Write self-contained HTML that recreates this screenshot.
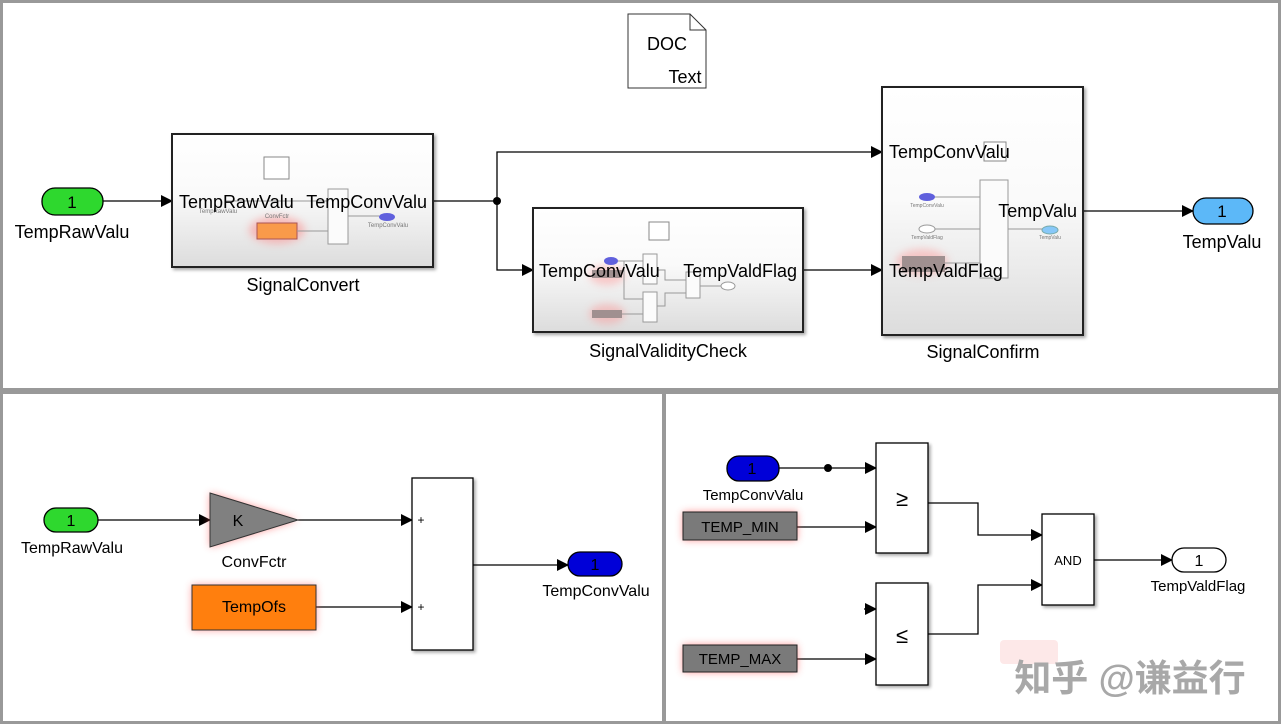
<!DOCTYPE html>
<html><head><meta charset="utf-8"><style>
html,body{margin:0;padding:0;background:#fff;}
svg{display:block;font-family:"Liberation Sans",Arial,sans-serif;}
</style></head><body>
<svg width="1282" height="726" viewBox="0 0 1282 726" xmlns="http://www.w3.org/2000/svg">
<defs>
<linearGradient id="g" x1="0" y1="0" x2="0" y2="1"><stop offset="0" stop-color="#fff"/><stop offset="0.45" stop-color="#fafafa"/><stop offset="1" stop-color="#dcdcdc"/></linearGradient>
<filter id="glow" x="-40%" y="-60%" width="180%" height="220%"><feGaussianBlur stdDeviation="4"/></filter>
<filter id="sh" x="-5%" y="-5%" width="115%" height="115%"><feDropShadow dx="2" dy="2" stdDeviation="1.5" flood-color="#000" flood-opacity="0.35"/></filter>
<marker id="a" markerWidth="12" markerHeight="12" refX="11" refY="6" orient="auto" markerUnits="userSpaceOnUse"><path d="M0,0 L12,6 L0,12 z" fill="#000"/></marker>
</defs>
<rect width="1282" height="726" fill="#fff"/>
<rect x="1.5" y="1.5" width="1278" height="388" fill="none" stroke="#999" stroke-width="3"/>
<rect x="1.5" y="392.5" width="662" height="330" fill="none" stroke="#999" stroke-width="3"/>
<rect x="664.5" y="392.5" width="615" height="330" fill="none" stroke="#999" stroke-width="3"/>

<path d="M628,14 H690 L706,30 V88 H628 Z" fill="#fff" stroke="#333"/>
<path d="M690,14 V30 H706" fill="none" stroke="#333"/>
<text x="667" y="50" font-size="18" text-anchor="middle">DOC</text>
<text x="685" y="83" font-size="18" text-anchor="middle">Text</text>

<g stroke="#000" stroke-width="1.3" fill="none">
<path d="M103,201 H172" marker-end="url(#a)"/>
<path d="M433,201 H497 V152 H882" marker-end="url(#a)"/>
<path d="M497,201 V270 H533" marker-end="url(#a)"/>
<path d="M803,270 H882" marker-end="url(#a)"/>
<path d="M1083,211 H1193" marker-end="url(#a)"/>
</g>
<circle cx="497" cy="201" r="4" fill="#000"/>

<rect x="42" y="188" width="61" height="27" rx="13" fill="#2ed82e" stroke="#000" stroke-width="1.3"/>
<text x="72" y="208" font-size="17" text-anchor="middle">1</text>
<text x="72" y="238" font-size="18" text-anchor="middle">TempRawValu</text>

<rect x="172" y="134" width="261" height="133" fill="url(#g)" stroke="#222" stroke-width="2" filter="url(#sh)"/>
<rect x="264" y="157" width="25" height="22" fill="#fff" stroke="#888"/>
<ellipse cx="277" cy="230" rx="28" ry="14" fill="#f88" opacity="0.5" filter="url(#glow)"/>
<rect x="257" y="223" width="40" height="16" fill="#f99a4a" stroke="#a55"/>
<rect x="328" y="189" width="20" height="55" fill="#fbfbfb" stroke="#999"/>
<ellipse cx="387" cy="217" rx="8" ry="4" fill="#6060dd"/>
<path d="M297,231 H328 M348,216 H379 M225,201 H328" stroke="#999" fill="none"/>
<text x="218" y="213" font-size="6" fill="#777" text-anchor="middle">TempRawValu</text>
<text x="277" y="218" font-size="6" fill="#777" text-anchor="middle">ConvFctr</text>
<text x="388" y="227" font-size="6" fill="#777" text-anchor="middle">TempConvValu</text>
<text x="179" y="208" font-size="18">TempRawValu</text>
<text x="427" y="208" font-size="18" text-anchor="end">TempConvValu</text>
<text x="303" y="291" font-size="18" text-anchor="middle">SignalConvert</text>

<rect x="533" y="208" width="270" height="124" fill="url(#g)" stroke="#222" stroke-width="2" filter="url(#sh)"/>
<rect x="649" y="222" width="20" height="18" fill="#fff" stroke="#888"/>
<ellipse cx="607" cy="275" rx="18" ry="10" fill="#f88" opacity="0.4" filter="url(#glow)"/>
<ellipse cx="607" cy="314" rx="18" ry="10" fill="#f88" opacity="0.4" filter="url(#glow)"/>
<rect x="592" y="270" width="30" height="8" fill="#a09090"/>
<rect x="592" y="310" width="30" height="8" fill="#a09090"/>
<ellipse cx="611" cy="261" rx="7" ry="4" fill="#6060dd"/>
<rect x="643" y="254" width="14" height="30" fill="#fbfbfb" stroke="#999"/>
<rect x="643" y="292" width="14" height="30" fill="#fbfbfb" stroke="#999"/>
<rect x="686" y="272" width="14" height="26" fill="#fbfbfb" stroke="#999"/>
<ellipse cx="728" cy="286" rx="7" ry="4" fill="#fff" stroke="#999"/>
<path d="M618,261 H643 M624,261 V299 H643 M622,314 H643 M657,270 H665 V280 H686 M657,306 H665 V293 H686 M700,286 H721" stroke="#999" fill="none"/>
<text x="539" y="277" font-size="18">TempConvValu</text>
<text x="797" y="277" font-size="18" text-anchor="end">TempValdFlag</text>
<text x="668" y="357" font-size="18" text-anchor="middle">SignalValidityCheck</text>

<rect x="882" y="87" width="201" height="248" fill="url(#g)" stroke="#222" stroke-width="2" filter="url(#sh)"/>
<rect x="984" y="142" width="22" height="19" fill="#fff" stroke="#888"/>
<rect x="980" y="180" width="28" height="98" fill="#fbfbfb" stroke="#999"/>
<ellipse cx="927" cy="197" rx="8" ry="4" fill="#6060dd"/>
<ellipse cx="927" cy="229" rx="8" ry="4" fill="#fff" stroke="#999"/>
<ellipse cx="1050" cy="230" rx="8" ry="4" fill="#88c8f8" stroke="#7aa"/>
<ellipse cx="922" cy="262" rx="26" ry="13" fill="#f88" opacity="0.4" filter="url(#glow)"/>
<rect x="902" y="256" width="43" height="16" fill="#a09090"/>
<path d="M935,197 H980 M935,229 H980 M945,263 H980 M1008,229 H1042" stroke="#999" fill="none"/>
<text x="927" y="207" font-size="5" fill="#777" text-anchor="middle">TempConvValu</text>
<text x="927" y="239" font-size="5" fill="#777" text-anchor="middle">TempValdFlag</text>
<text x="1050" y="239" font-size="5" fill="#777" text-anchor="middle">TempValu</text>
<text x="889" y="158" font-size="18">TempConvValu</text>
<text x="1077" y="217" font-size="18" text-anchor="end">TempValu</text>
<text x="889" y="277" font-size="18">TempValdFlag</text>
<text x="983" y="358" font-size="18" text-anchor="middle">SignalConfirm</text>

<rect x="1193" y="198" width="60" height="26" rx="13" fill="#5cb8f8" stroke="#000" stroke-width="1.3"/>
<text x="1222" y="217" font-size="17" text-anchor="middle">1</text>
<text x="1222" y="248" font-size="18" text-anchor="middle">TempValu</text>

<g stroke="#000" stroke-width="1.3" fill="none">
<path d="M98,520 H210" marker-end="url(#a)"/>
<path d="M298,520 H412" marker-end="url(#a)"/>
<path d="M316,607 H412" marker-end="url(#a)"/>
<path d="M473,565 H568" marker-end="url(#a)"/>
</g>
<rect x="44" y="508" width="54" height="24" rx="12" fill="#2ed82e" stroke="#000" stroke-width="1.3"/>
<text x="71" y="526" font-size="16" text-anchor="middle">1</text>
<text x="72" y="553" font-size="16" text-anchor="middle">TempRawValu</text>
<path d="M210,493 L298,520 L210,547 Z" fill="#f55" opacity="0.6" filter="url(#glow)"/>
<path d="M210,493 L298,520 L210,547 Z" fill="#808080" stroke="#333"/>
<text x="238" y="526" font-size="16" text-anchor="middle">K</text>
<text x="254" y="567" font-size="16" text-anchor="middle">ConvFctr</text>
<rect x="192" y="585" width="124" height="45" fill="#f55" opacity="0.6" filter="url(#glow)"/>
<rect x="192" y="585" width="124" height="45" fill="#ff7f0e" stroke="#333"/>
<text x="254" y="612" font-size="16" text-anchor="middle">TempOfs</text>
<rect x="412" y="478" width="61" height="172" fill="#fff" stroke="#000" stroke-width="1.3" filter="url(#sh)"/>
<text x="421" y="524" font-size="12" text-anchor="middle">+</text>
<text x="421" y="611" font-size="12" text-anchor="middle">+</text>
<rect x="568" y="552" width="54" height="24" rx="12" fill="#0000d8" stroke="#000" stroke-width="1.3"/>
<text x="595" y="570" font-size="16" text-anchor="middle">1</text>
<text x="596" y="596" font-size="16" text-anchor="middle">TempConvValu</text>

<g stroke="#000" stroke-width="1.3" fill="none">
<path d="M779,468 H876" marker-end="url(#a)"/>
<path d="M797,527 H876" marker-end="url(#a)"/>
<path d="M864,609 H876" marker-end="url(#a)"/>
<path d="M797,659 H876" marker-end="url(#a)"/>
<path d="M928,503 H978 V535 H1042" marker-end="url(#a)"/>
<path d="M928,634 H978 V585 H1042" marker-end="url(#a)"/>
<path d="M1094,560 H1172" marker-end="url(#a)"/>
</g>
<circle cx="828" cy="468" r="4" fill="#000"/>
<rect x="727" y="456" width="52" height="25" rx="12" fill="#0000d8" stroke="#000" stroke-width="1.3"/>
<text x="752" y="474" font-size="16" text-anchor="middle">1</text>
<text x="753" y="500" font-size="15" text-anchor="middle">TempConvValu</text>
<rect x="683" y="512" width="114" height="28" fill="#f44" opacity="0.6" filter="url(#glow)"/>
<rect x="683" y="512" width="114" height="28" fill="#7a7a7a" stroke="#222"/>
<text x="740" y="532" font-size="15" text-anchor="middle">TEMP_MIN</text>
<rect x="683" y="645" width="114" height="27" fill="#f44" opacity="0.6" filter="url(#glow)"/>
<rect x="683" y="645" width="114" height="27" fill="#7a7a7a" stroke="#222"/>
<text x="740" y="664" font-size="15" text-anchor="middle">TEMP_MAX</text>
<rect x="876" y="443" width="52" height="110" fill="#fff" stroke="#000" stroke-width="1.3" filter="url(#sh)"/>
<text x="902" y="506" font-size="22" text-anchor="middle">≥</text>
<rect x="876" y="583" width="52" height="102" fill="#fff" stroke="#000" stroke-width="1.3" filter="url(#sh)"/>
<text x="902" y="643" font-size="22" text-anchor="middle">≤</text>
<rect x="1042" y="514" width="52" height="91" fill="#fff" stroke="#000" stroke-width="1.3" filter="url(#sh)"/>
<text x="1068" y="565" font-size="13" text-anchor="middle">AND</text>
<rect x="1172" y="548" width="54" height="24" rx="12" fill="#fff" stroke="#000" stroke-width="1.3"/>
<text x="1199" y="566" font-size="16" text-anchor="middle">1</text>
<text x="1198" y="591" font-size="15" text-anchor="middle">TempValdFlag</text>

<rect x="1000" y="640" width="58" height="24" rx="4" fill="#fde8e8"/>
<text x="1130" y="691" font-size="37" fill="#a8a8a8" font-weight="bold" text-anchor="middle" font-family="'Liberation Sans','Noto Sans CJK SC',sans-serif">知乎 @谦益行</text>
</svg>
</body></html>
